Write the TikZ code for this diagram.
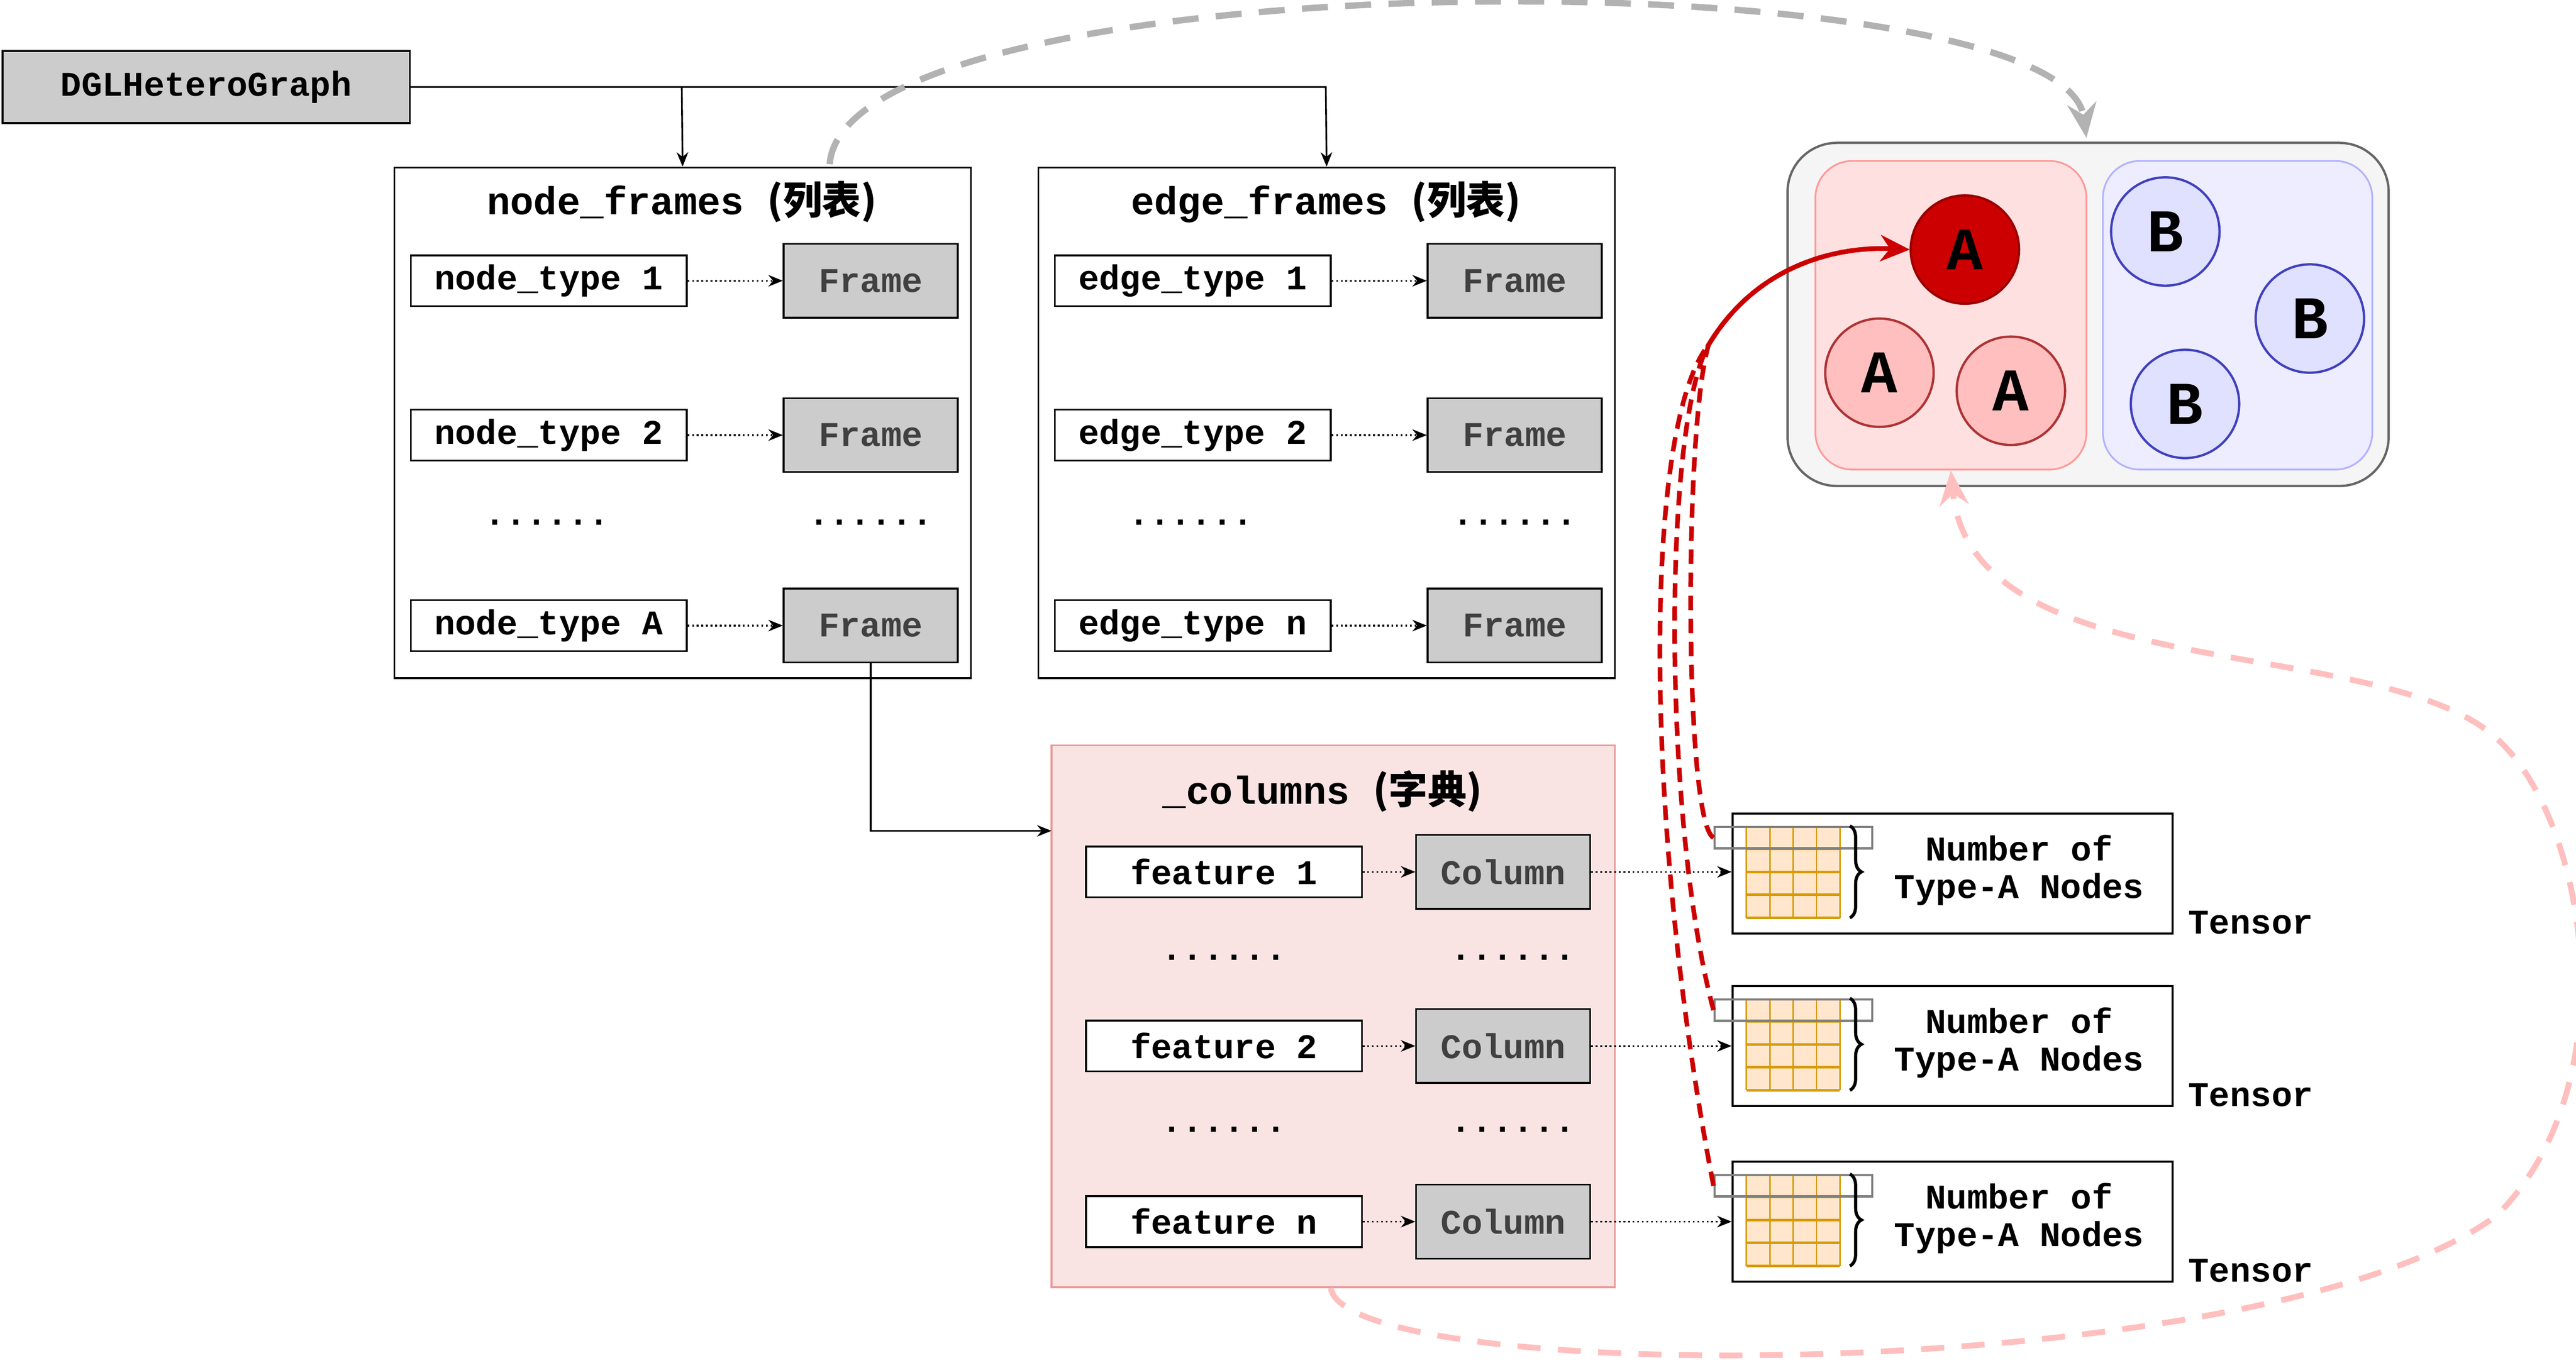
\documentclass[tikz,border=0pt]{standalone}
\usepackage{fontspec}
\setmainfont{Liberation Mono}
\newfontfamily\cjk{Noto Sans CJK SC}
\usetikzlibrary{arrows.meta, decorations.pathreplacing}
\definecolor{boxgray}{HTML}{CCCCCC}
\definecolor{colpink}{HTML}{FAE3E3}
\definecolor{colpinkline}{HTML}{EA9999}
\definecolor{gorange}{HTML}{D79B00}
\definecolor{gfill}{HTML}{FFE6CC}
\tikzset{
    x=0.02cm, y=-0.02cm,
    every node/.style={font=\bfseries\fontsize{12}{14}\selectfont, inner sep=0pt}, % default text
    key/.style={draw, fill=white, line width=0.6pt, minimum width=3.36cm, minimum height=0.62cm},
    frame/.style={draw, fill=boxgray, line width=0.6pt, minimum width=2.12cm, minimum height=0.9cm, text=black!75},
    dotarrow/.style={densely dotted, line width=0.6pt, -{Stealth[length=5pt, width=4pt]}},
    solidarrow/.style={line width=0.6pt, -{Stealth[length=5pt, width=4pt]}},
    title/.style={font=\bfseries\fontsize{13.5}{16}\selectfont},
    anode/.style={circle, draw=red!60!black!80, line width=0.8pt, fill=red!25!white, minimum size=1.32cm, font=\bfseries\fontsize{21}{24}\selectfont},
    bnode/.style={circle, draw=blue!50!gray, line width=0.8pt, fill=blue!12!white, minimum size=1.32cm, font=\bfseries\fontsize{21}{24}\selectfont},
    }
\begin{document}
\begin{tikzpicture}
\useasboundingbox (0,0) rectangle (1568,830);
% top graph object
\node[draw, fill=boxgray, line width=0.6pt, minimum width=4.96cm, minimum height=0.88cm, anchor=west] (dgl) at (1,53) {DGLHeteroGraph};
\node[draw, line width=0.6pt, minimum width=7.02cm, minimum height=6.22cm] (nframes) at (415.5,257.5) {};
\node[draw, line width=0.6pt, minimum width=7.02cm, minimum height=6.22cm] (eframes) at (807.5,257.5) {};
\node[title] at (415,123) {node\_frames {\cjk (列表)}};
\node[title] at (807,123) {edge\_frames {\cjk (列表)}};
\draw[solidarrow] (dgl.east) -- (807,53) -- (eframes.north);
\draw[solidarrow] (415,53) -- (nframes.north);

% frame lists
\foreach \y/\t/\s in {171/1/1, 265/2/2, 381/A/n} {
    \node[key] (nt\t) at (334,\y) {node\_type \t};
    \node[frame] (nf\t) at (530,\y) {Frame};
    \draw[dotarrow] (nt\t) -- (nf\t);
    \node[key] (et\t) at (726,\y) {edge\_type \s};
    \node[frame] (ef\t) at (922,\y) {Frame};
    \draw[dotarrow] (et\t) -- (ef\t);
}
\foreach \x in {333, 530, 725, 922}
    \node at (\x,318) {......};

% columns
\node[draw=colpinkline, fill=colpink, line width=0.6pt, minimum width=6.86cm, minimum height=6.6cm] (cols) at (811.5,619) {};
\node[title] at (805,482) {\_columns {\cjk (字典)}};
\draw[solidarrow] (nfA.south) -- (530,506) -- (640,506);
\foreach \y/\t/\n in {531/1/1, 637/2/2, 744/3/n} {
    \node[key] (ft\t) at (745,\y) {feature \n};
    \node[frame] (col\t) at (915,\y) {Column};
    \draw[dotarrow] (ft\t) -- (col\t);
}
\foreach \x/\y in {745/583, 921/583, 745/688, 921/688}
    \node at (\x,\y) {......};

% tensors
\foreach \t/\y in {1/495, 2/600, 3/707} {
    \node[draw, line width=0.7pt, fill=white, minimum width=5.36cm, minimum height=1.46cm, anchor=north west] (ten\t) at (1054,\y) {};
    \fill[gfill] (1063,\y+8) rectangle (1120,\y+64);
    \foreach \i in {0,...,4}
        \draw[gorange, line width=0.5pt] (1063+14.25*\i,\y+8) -- (1063+14.25*\i,\y+64);
    \foreach \j in {1,...,4}
        \draw[gorange, line width=0.9pt] (1063,\y+8+14*\j) -- (1120,\y+8+14*\j);
    \node[draw=gray, line width=0.8pt, minimum width=1.92cm, minimum height=0.26cm, anchor=north west] (row\t) at (1043,\y+8) {};
    \draw[decorate, decoration={brace, amplitude=4pt}, line width=1.1pt] (1126,\y+8) -- (1126,\y+64);
    \node[align=center, font=\bfseries\fontsize{12}{13}\selectfont] at (1229,\y+35) {Number of\\Type-A Nodes};
    \node at (1370,\y+67) {Tensor};
    \draw[dotarrow] (col\t) -- (ten\t.west |- col\t);
}

% typed graph
\node[draw=black!60, fill=black!4, line width=0.8pt, rounded corners=0.6cm, minimum width=7.32cm, minimum height=4.18cm] (graph) at (1271,191.5) {};
\node[draw=red!40, fill=red!12!white, line width=0.6pt, rounded corners=0.45cm, minimum width=3.3cm, minimum height=3.76cm] (grpA) at (1187.5,192) {};
\node[draw=blue!30, fill=blue!7!white, line width=0.6pt, rounded corners=0.45cm, minimum width=3.28cm, minimum height=3.76cm] (grpB) at (1362,192) {};
\node[anode, fill=red!80!black, draw=red!60!black] (a1) at (1196,152) {A};
\node[anode] (a2) at (1144,227) {A};
\node[anode] (a3) at (1224,238) {A};
\node[bnode] (b1) at (1318,141) {B};
\node[bnode] (b2) at (1406,194) {B};
\node[bnode] (b3) at (1330,246) {B};

% links between parts
\draw[dashed, line width=2.2pt, black!30, dash pattern=on 9pt off 6pt, -{Stealth[length=12pt, width=10pt]}] (505,100) .. controls (515,-27) and (1255,-27) .. (1270,84);
\foreach \t/\cx in {1/1025, 2/1012, 3/1000}
    \draw[red!80!black, line width=1.6pt, dash pattern=on 5pt off 3pt, -{Stealth[length=10pt, width=9pt]}] (row\t.west) .. controls (\cx,\t*0+500) and (\cx,260) .. (1040,210) .. controls (1070,160) and (1120,150) .. (a1.west);
\draw[red!25, line width=2pt, dash pattern=on 8pt off 6pt, -{Stealth[length=12pt, width=10pt]}] (cols.south -| 810,0) .. controls (820,845) and (1380,845) .. (1520,740) .. controls (1600,660) and (1575,500) .. (1520,450) .. controls (1450,385) and (1200,420) .. (grpA.south);
\end{tikzpicture}
\end{document}
